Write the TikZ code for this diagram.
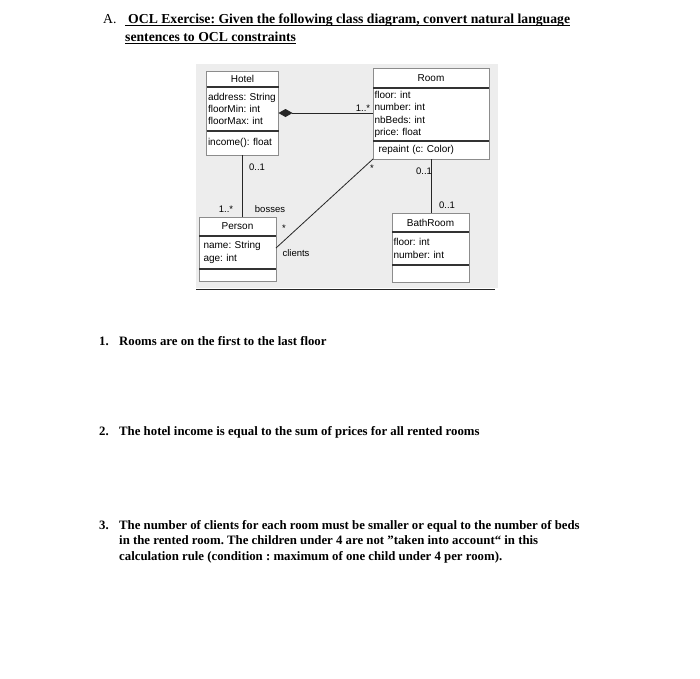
\documentclass[tikz,border=0pt]{standalone}
\usepackage{fontspec}
\setmainfont{Liberation Serif}
\setsansfont{Liberation Sans}
\usetikzlibrary{arrows.meta,positioning}
\frenchspacing

\begin{document}
\begin{tikzpicture}[
    x=1pt, y=-1pt,
    classbox/.style={
        draw=black!45,
        fill=white,
        line width=0.7pt,
        outer sep=0pt,
        inner ysep=1pt,
        font=\sffamily\fontsize{10}{12.3}\selectfont
    },
    classname/.style={classbox, anchor=north west, align=center, inner xsep=0pt},
    classpart/.style={classbox, inner xsep=1.5pt, align=left, below=0pt of #1},
    sepline/.style={line width=1.1pt, black!80},
    assoc/.style={line width=0.8pt, black!85},
    mult/.style={font=\sffamily\fontsize{9.5}{10}\selectfont, inner sep=1pt},
    item/.style={anchor=base west, font=\bfseries\fontsize{12.8}{15.5}\selectfont, inner sep=0pt},
    uline/.style={line width=1.1pt}
]
    \useasboundingbox (0,0) rectangle (700,678);

    % header
    \node[anchor=base west, inner sep=0pt, font=\fontsize{13.7}{15}\selectfont] (exletter) at (103,23.5) {A.};
    \node[item, font=\bfseries\fontsize{13.7}{15}\selectfont] (extitle) at (128,23.5)
        {OCL Exercise: Given the following class diagram, convert natural language};
    \node[item, font=\bfseries\fontsize{13.7}{15}\selectfont] (extitletwo) at (125,41.5)
        {sentences to OCL constraints};
    \draw[uline] ([xshift=-3pt,yshift=-2pt]extitle.base west) -- ([yshift=-2pt]extitle.base east);
    \draw[uline] ([yshift=-2pt]extitletwo.base west) -- ([yshift=-2pt]extitletwo.base east);

    % diagram panel
    \fill[black!7] (196,64) rectangle (498,288);
    \draw[line width=1.3pt, black!85] (196,289.5) -- (495,289.5);

    % Hotel
    \node[classname, minimum width=72pt, minimum height=16pt] (hotel) at (206.5,71) {Hotel};
    \node[classpart=hotel, text width=69pt, minimum height=44pt] (hotelattr)
        {address: String\\floorMin: int\\floorMax: int};
    \node[classpart=hotelattr, text width=69pt, minimum height=24pt] (hotelops) {income(): float};

    % Room
    \node[classname, minimum width=116pt, minimum height=20pt] (room) at (373,68) {Room};
    \node[classpart=room, text width=113pt, minimum height=53pt] (roomattr)
        {floor: int\\number: int\\nbBeds: int\\price: float};
    \node[classpart=roomattr, text width=113pt, minimum height=18pt] (roomops) {\hspace{4pt}repaint (c: Color)};

    % Person
    \node[classname, minimum width=77pt, minimum height=19pt] (person) at (199,217) {Person};
    \node[classpart=person, text width=74pt, minimum height=33pt] (personattr)
        {\hspace{3pt}name: String\\\hspace{3pt}age: int};
    \node[classpart=personattr, text width=74pt, minimum height=12pt] (personops) {};

    % BathRoom
    \node[classname, minimum width=77pt, minimum height=19pt] (bath) at (392,213) {BathRoom};
    \node[classpart=bath, text width=74pt, minimum height=33pt] (bathattr)
        {floor: int\\number: int};
    \node[classpart=bathattr, text width=74pt, minimum height=17pt] (bathops) {};

    \foreach \c in {hotel,room,person,bath}{
        \draw[sepline] (\c attr.north west) -- (\c attr.north east);
        \draw[sepline] (\c attr.south west) -- (\c attr.south east);
    }

    % associations
    \draw[
        assoc,
        {Diamond[length=14pt,width=8pt]}-
    ] ([yshift=-4pt]hotelattr.east) -- ([yshift=-4pt]hotelattr.east -| roomattr.west);
    \draw[assoc] (hotelops.south) -- (hotelops.south |- person.north);
    \draw[assoc] (roomops.south west) -- ([yshift=4.5pt]personattr.east);
    \draw[assoc] (roomops.south) -- (roomops.south |- bath.north);

    % multiplicities and roles
    \node[mult] (roomone) at (363,108) {1..*};
    \node[mult] (hotelzero) at (257,167) {0..1};
    \node[mult] (personone) at (226,209) {1..*};
    \node[mult] (bosses) at (270,209) {bosses};
    \node[mult] (roomstar) at (372,168) {*};
    \node[mult] (personstar) at (284,228) {*};
    \node[mult] (clients) at (296,253) {clients};
    \node[mult] (roomzero) at (424,171) {0..1};
    \node[mult] (bathzero) at (447,205) {0..1};

    % questions
    \node[item] (numone) at (99,345.5) {1.};
    \node[item] (qone) at (119,345.5) {Rooms are on the first to the last floor};
    \node[item] (numtwo) at (99,435.5) {2.};
    \node[item] (qtwo) at (119,435.5) {The hotel income is equal to the sum of prices for all rented rooms};
    \node[item] (numthree) at (99,529) {3.};
    \node[item, align=left] (qthree) at (119,560)
        {The number of clients for each room must be smaller or equal to the number of beds\\
         in the rented room. The children under 4 are not "taken into account`` in this\\
         calculation rule (condition : maximum of one child under 4 per room).};
\end{tikzpicture}
\end{document}
